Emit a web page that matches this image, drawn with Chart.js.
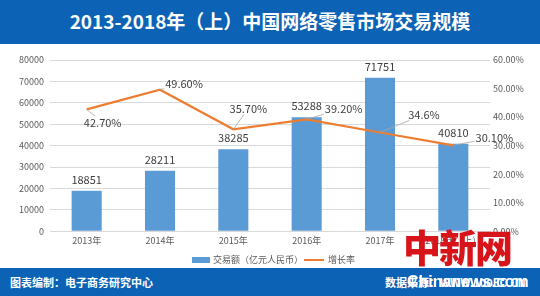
<!DOCTYPE html>
<html>
<head>
<meta charset="utf-8">
<script src="https://cdn.jsdelivr.net/npm/chart.js@4.4.0/dist/chart.umd.min.js"></script>
<style>
body { margin: 0; width: 540px; height: 296px; overflow: hidden; background: #fff; position: relative; font-family: "Noto Sans CJK SC", sans-serif; }
#head { position: absolute; left: 0; top: 0; width: 540px; height: 44px; background: #0c63b5; color: #fff; font-weight: bold; font-size: 19px; text-align: center; line-height: 42px; }
#foot { position: absolute; left: 0; top: 268px; width: 540px; height: 28px; background: #0c63b5; color: #fff; font-weight: bold; font-size: 11px; }
#foot .l { position: absolute; left: 10px; top: 6px; }
#foot .r { position: absolute; left: 385px; top: 6px; }
#wrap { position: absolute; left: 0; top: 44px; width: 540px; height: 224px; }
#logo { position: absolute; left: 403px; top: 224px; color: #d8141b; font-size: 38px; font-weight: 900; letter-spacing: -2px; font-family: "Noto Sans CJK SC", serif; line-height: 44px; }
#logo2 { position: absolute; left: 407px; top: 273px; color: #fff; font-size: 16px; font-weight: bold; font-family: "Liberation Sans Narrow", "Liberation Sans", sans-serif; line-height: 18px; }
</style>
</head>
<body>
<div id="head">2013-2018年（上）中国网络零售市场交易规模</div>
<div id="wrap"><canvas id="chart"></canvas></div>
<div id="foot"><span class="l">图表编制：电子商务研究中心</span><span class="r">数据来源：WWW.100EC.CN</span></div>
<div id="logo">中新网</div>
<div id="logo2">Chinanews.com</div>
<script>
const years = ['2013年', '2014年', '2015年', '2016年', '2017年', '2018年（上）'];
const volume = [18851, 28211, 38285, 53288, 71751, 40810];
const growth = [42.7, 49.6, 35.7, 39.2, 34.6, 30.1];
const growthText = ['42.70%', '49.60%', '35.70%', '39.20%', '34.6%', '30.10%'];

// where each growth label sits relative to its point
const labelShift = [[16, 13], [24, -6], [15, -21], [37, -11], [44, -18], [41, -8]];

const labelPlugin = {
    id: 'valueLabels',
    afterDatasetsDraw(chart) {
        const ctx = chart.ctx;
        const bars = chart.getDatasetMeta(0).data;
        const pts = chart.getDatasetMeta(1).data;
        ctx.save();
        ctx.font = '11px "Noto Sans CJK SC"';
        ctx.fillStyle = '#404040';
        ctx.textAlign = 'center';
        ctx.textBaseline = 'middle';
        bars.forEach((b, i) => ctx.fillText(volume[i], b.x, b.y - 11));

        pts.forEach((p, i) => {
            const cx = p.x + labelShift[i][0];
            const cy = p.y + labelShift[i][1];
            const hw = ctx.measureText(growthText[i]).width / 2 + 1;
            const hh = 6;
            // leader line from point to the label box edge
            const dx = p.x - cx, dy = p.y - cy;
            const t = Math.min(hw / Math.abs(dx || 1e-6), hh / Math.abs(dy || 1e-6));
            if (t < 1) {
                ctx.strokeStyle = '#a6a6a6';
                ctx.lineWidth = 0.8;
                ctx.beginPath();
                ctx.moveTo(p.x, p.y);
                ctx.lineTo(cx + dx * t, cy + dy * t);
                ctx.stroke();
            }
            ctx.fillStyle = '#404040';
            ctx.fillText(growthText[i], cx, cy);
        });

        // legend
        const lx = 192, ly = chart.height - 8;
        ctx.font = '9px "Noto Sans CJK SC"';
        ctx.textAlign = 'left';
        ctx.fillStyle = '#5b9bd5';
        ctx.fillRect(lx, ly - 3, 18, 6);
        ctx.fillStyle = '#595959';
        ctx.fillText('交易额（亿元人民币）', lx + 21, ly);
        ctx.strokeStyle = '#ed7d31';
        ctx.lineWidth = 2;
        ctx.beginPath();
        ctx.moveTo(lx + 112, ly);
        ctx.lineTo(lx + 132, ly);
        ctx.stroke();
        ctx.fillText('增长率', lx + 136, ly);
        ctx.restore();
    }
};

new Chart(document.getElementById('chart').getContext('2d'), {
    data: {
        labels: years,
        datasets: [{
            type: 'bar',
            label: '交易额（亿元人民币）',
            data: volume,
            backgroundColor: '#5b9bd5',
            barPercentage: 0.82,
            categoryPercentage: 0.5,
            yAxisID: 'y',
            order: 2
        }, {
            type: 'line',
            label: '增长率',
            data: growth,
            borderColor: '#ed7d31',
            borderWidth: 2.2,
            pointRadius: 0,
            tension: 0,
            yAxisID: 'y1',
            order: 1
        }]
    },
    options: {
        responsive: true,
        maintainAspectRatio: false,
        animation: false,
        layout: { padding: { top: 16, bottom: 18 } },
        plugins: { legend: { display: false }, tooltip: { enabled: false } },
        scales: {
            x: {
                grid: { display: false, drawTicks: false },
                border: { color: '#d9d9d9' },
                ticks: { color: '#595959', font: { size: 9, family: 'Noto Sans CJK SC' }, maxRotation: 0, autoSkip: false, padding: 4 }
            },
            y: {
                position: 'left',
                min: 0, max: 80000,
                ticks: { stepSize: 10000, color: '#595959', font: { size: 9, family: 'Noto Sans CJK SC' }, padding: 6,
                    callback: v => String(v) },
                grid: { color: '#d9d9d9', drawTicks: false },
                border: { display: false },
                afterFit(s) { s.width = 50; }
            },
            y1: {
                position: 'right',
                min: 0, max: 60,
                ticks: { stepSize: 10, color: '#595959', font: { size: 9, family: 'Noto Sans CJK SC' }, padding: 3,
                    callback: v => v.toFixed(2) + '%' },
                grid: { display: false, drawTicks: false },
                border: { display: false },
                afterFit(s) { s.width = 50; }
            }
        }
    },
    plugins: [labelPlugin]
});
</script>
</body>
</html>
